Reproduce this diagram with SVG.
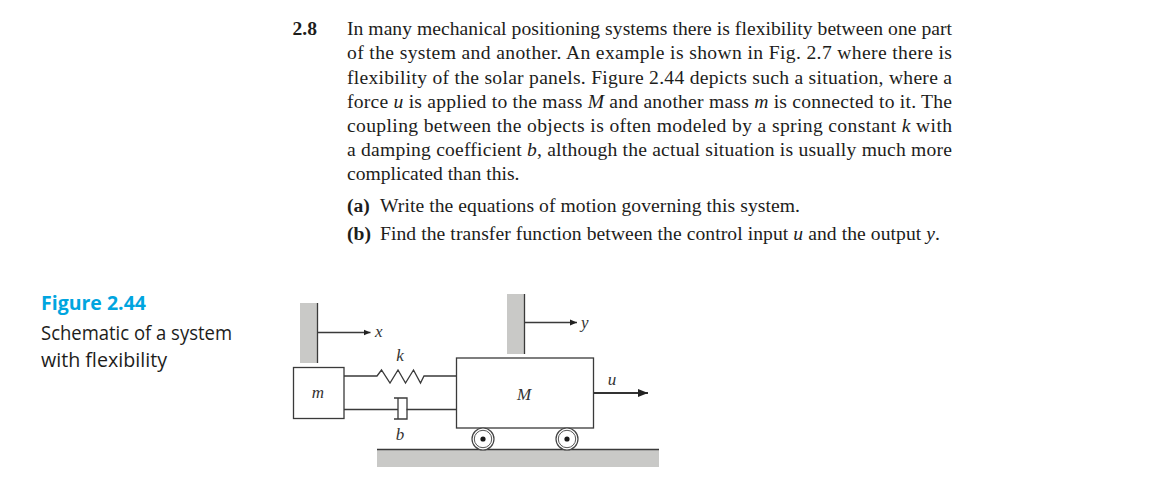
<svg xmlns="http://www.w3.org/2000/svg" width="1170" height="478" viewBox="0 0 1170 478">
<style>
text{fill:#1d1d1b}
.b{font-family:"Liberation Serif","Times New Roman",serif;font-size:19.6px}
.i{font-style:italic}
.l{font-family:"Liberation Serif",serif;font-style:italic;font-size:17px;fill:#333}
.cap{font-family:"Open Sans","Noto Sans",sans-serif;font-size:19.5px}
.ln{fill:none;stroke:#3a3a3a;stroke-width:1.3}
.gr{fill:#c9c9c7}
.bx{fill:#fff;stroke:#3a3a3a;stroke-width:1.3}
</style>
<defs>
<marker id="a" markerUnits="userSpaceOnUse" markerWidth="8" markerHeight="8" refX="7" refY="4" orient="auto"><path d="M0 1 L7 4 L0 7Z" fill="#222"/></marker>
<marker id="a2" markerUnits="userSpaceOnUse" markerWidth="11" markerHeight="10" refX="10" refY="5" orient="auto"><path d="M0 1 L10 5 L0 9Z" fill="#222"/></marker>
<g id="wheel"><circle r="11" fill="#fff" stroke="#444" stroke-width="1.2"/><circle r="8.7" fill="none" stroke="#555" stroke-width="1"/><circle r="2.6" fill="#1a1a1a"/></g>
</defs>

<g id="problem">
<text class="b" x="292.500" y="35" font-weight="bold">2.8</text>
<text class="b" x="347" y="35" textLength="605">In many mechanical positioning systems there is flexibility between one part</text>
<text class="b" x="347" y="59" textLength="605">of the system and another. An example is shown in Fig. 2.7 where there is</text>
<text class="b" x="347" y="83.500" textLength="605">flexibility of the solar panels. Figure 2.44 depicts such a situation, where a</text>
<text class="b" x="347" y="107.500" textLength="605">force <tspan class="i">u</tspan> is applied to the mass <tspan class="i">M</tspan> and another mass <tspan class="i">m</tspan> is connected to it. The</text>
<text class="b" x="347" y="132" textLength="605">coupling between the objects is often modeled by a spring constant <tspan class="i">k</tspan> with</text>
<text class="b" x="347" y="156" textLength="605">a damping coefficient <tspan class="i">b</tspan>, although the actual situation is usually much more</text>
<text class="b" x="347" y="180">complicated than this.</text>
<text class="b" x="347" y="212" font-weight="bold">(a)</text>
<text class="b" x="380" y="212" textLength="420">Write the equations of motion governing this system.</text>
<text class="b" x="347" y="240" font-weight="bold">(b)</text>
<text class="b" x="380" y="240" textLength="560">Find the transfer function between the control input <tspan class="i">u</tspan> and the output <tspan class="i">y</tspan>.</text>
</g>

<g id="caption">
<text class="cap" x="41" y="310" font-weight="bold" style="fill:#00a5df">Figure 2.44</text>
<text class="cap" x="41" y="340" textLength="191" lengthAdjust="spacingAndGlyphs">Schematic of a system</text>
<text class="cap" x="41" y="367" textLength="126" lengthAdjust="spacingAndGlyphs">with flexibility</text>
</g>

<g id="ground"><rect class="gr" x="377" y="449" width="282" height="18"/><path class="ln" d="M377 449.500H659"/></g>
<g id="wall-x"><rect class="gr" x="300" y="303" width="18" height="60"/><path class="ln" d="M317.500 303V363"/></g>
<g id="wall-y"><rect class="gr" x="507" y="294" width="18" height="60"/><path class="ln" d="M524.500 294V354"/></g>

<g id="connectors">
<path class="ln" marker-end="url(#a)" d="M318 332.500H370.500"/>
<path class="ln" marker-end="url(#a)" d="M525 322.500H577"/>
<path class="ln" d="M344 376H377L381.500 370L390 383L398 370L405.500 383L413.500 370L420.500 383L424 376H456"/>
<path class="ln" d="M344 409.500H398M406.500 409.500H456"/>
<path class="ln" d="M394 398H407V419H394M398 398V419"/>
<path fill="none" stroke="#333" stroke-width="1.8" marker-end="url(#a2)" d="M593 393H648"/>
</g>

<g id="mass-m"><rect class="bx" x="293.500" y="367.500" width="50.500" height="51"/><text class="l" x="318" y="398" text-anchor="middle">m</text></g>
<g id="mass-M"><rect class="bx" x="456.500" y="358" width="137" height="70"/><text class="l" x="524" y="400" text-anchor="middle">M</text></g>
<g id="wheel-1"><use href="#wheel" x="483" y="439"/></g>
<g id="wheel-2"><use href="#wheel" x="567" y="439"/></g>

<g id="labels">
<text class="l" x="375" y="337">x</text>
<text class="l" x="400" y="361" text-anchor="middle">k</text>
<text class="l" x="400" y="440" text-anchor="middle">b</text>
<text class="l" x="581" y="328">y</text>
<text class="l" x="612" y="385" text-anchor="middle">u</text>
</g>
</svg>
